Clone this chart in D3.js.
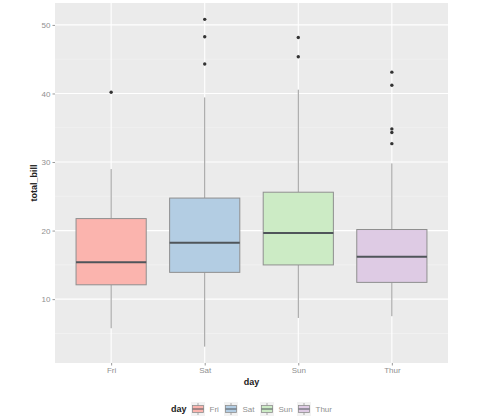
<!DOCTYPE html>
<html>
<head>
<meta charset="utf-8">
<script src="https://cdn.jsdelivr.net/npm/d3@7"></script>
<style>
  body { margin: 0; background: #fff; }
  svg text { font-family: "Liberation Sans", Arial, sans-serif; }
</style>
</head>
<body>
<div id="chart"></div>
<script>
const days = ["Fri", "Sat", "Sun", "Thur"];
const colors = ["#FBB4AE", "#B3CDE3", "#CCEBC5", "#DECBE4"];
const q1 = [12.09, 13.905, 14.9875, 12.4425];
const medians = [15.38, 18.24, 19.63, 16.2];
const q3 = [21.75, 24.74, 25.5975, 20.155];
const whiskerLow = [5.75, 3.07, 7.25, 7.51];
const whiskerHigh = [28.97, 39.42, 40.55, 29.8];
const outliers = [
  [40.17],
  [44.3, 48.27, 50.81],
  [45.35, 48.17],
  [32.68, 34.3, 34.83, 41.19, 43.11]
];
const yTicks = [10, 20, 30, 40, 50];
const yMinor = [5, 15, 25, 35, 45];

const W = 497, H = 420;
const panel = { left: 55, right: 448, top: 3, bottom: 363 };

const svg = d3.select("#chart").append("svg")
    .attr("width", W).attr("height", H);

// ggplot discrete expansion: 0.6 units beyond first and last category
const x = d3.scalePoint()
    .domain(days)
    .range([panel.left, panel.right])
    .padding(0.6);
const step = x.step();

const allVals = whiskerLow.concat(whiskerHigh, outliers.flat());
const lo = d3.min(allVals), hi = d3.max(allVals), pad = (hi - lo) * 0.05;
const y = d3.scaleLinear().domain([lo - pad, hi + pad]).range([panel.bottom, panel.top]);

// panel
svg.append("rect")
    .attr("x", panel.left).attr("y", panel.top)
    .attr("width", panel.right - panel.left).attr("height", panel.bottom - panel.top)
    .attr("fill", "#EBEBEB");

svg.selectAll(".minor").data(yMinor).enter().append("line")
    .attr("x1", panel.left).attr("x2", panel.right)
    .attr("y1", d => y(d)).attr("y2", d => y(d))
    .attr("stroke", "#F5F5F5").attr("stroke-width", 0.6);

svg.selectAll(".major").data(yTicks).enter().append("line")
    .attr("x1", panel.left).attr("x2", panel.right)
    .attr("y1", d => y(d)).attr("y2", d => y(d))
    .attr("stroke", "#fff").attr("stroke-width", 1.1);

svg.selectAll(".vmajor").data(days).enter().append("line")
    .attr("x1", d => x(d)).attr("x2", d => x(d))
    .attr("y1", panel.top).attr("y2", panel.bottom)
    .attr("stroke", "#fff").attr("stroke-width", 1.1);

// axes
const yAxis = svg.append("g")
    .attr("transform", `translate(${panel.left},0)`)
    .call(d3.axisLeft(y).tickValues(yTicks).tickSize(2.5).tickPadding(2));
const xAxis = svg.append("g")
    .attr("transform", `translate(0,${panel.bottom})`)
    .call(d3.axisBottom(x).tickSize(2.5).tickPadding(2));
[yAxis, xAxis].forEach(a => {
  a.select(".domain").remove();
  a.selectAll(".tick line").attr("stroke", "#999");
  a.selectAll("text").attr("fill", "#8f8f8f").attr("font-size", 8);
});

const bw = step * 0.75;

days.forEach((d, i) => {
  const cx = x(d);
  const g = svg.append("g");
  g.append("line")
      .attr("x1", cx).attr("x2", cx)
      .attr("y1", y(whiskerHigh[i])).attr("y2", y(q3[i]))
      .attr("stroke", "#9a9a9a").attr("stroke-width", 1);
  g.append("line")
      .attr("x1", cx).attr("x2", cx)
      .attr("y1", y(q1[i])).attr("y2", y(whiskerLow[i]))
      .attr("stroke", "#9a9a9a").attr("stroke-width", 1);
  g.append("rect")
      .attr("x", cx - bw / 2).attr("width", bw)
      .attr("y", y(q3[i])).attr("height", y(q1[i]) - y(q3[i]))
      .attr("fill", colors[i]).attr("stroke", "#8f8f8f").attr("stroke-width", 1);
  g.append("line")
      .attr("x1", cx - bw / 2).attr("x2", cx + bw / 2)
      .attr("y1", y(medians[i])).attr("y2", y(medians[i]))
      .attr("stroke", "#4f555a").attr("stroke-width", 2);
  g.selectAll("circle").data(outliers[i]).enter().append("circle")
      .attr("cx", cx).attr("cy", v => y(v)).attr("r", 1.7)
      .attr("fill", "#333");
});

// axis titles
svg.append("text")
    .attr("x", (panel.left + panel.right) / 2).attr("y", 385)
    .attr("text-anchor", "middle").attr("font-size", 9).attr("font-weight", "bold")
    .attr("fill", "#222").text("day");
svg.append("text")
    .attr("transform", `translate(37,${(panel.top + panel.bottom) / 2}) rotate(-90)`)
    .attr("text-anchor", "middle").attr("font-size", 9).attr("font-weight", "bold")
    .attr("fill", "#222").text("total_bill");

// legend
const legend = svg.append("g");
legend.append("text")
    .attr("x", 171).attr("y", 412)
    .attr("font-size", 9).attr("font-weight", "bold").attr("fill", "#222").text("day");
const keyX = [191, 224, 260, 297];
days.forEach((d, i) => {
  const kx = keyX[i], ky = 402;
  legend.append("rect").attr("x", kx).attr("y", ky).attr("width", 14).attr("height", 14)
      .attr("fill", "#F2F2F2");
  legend.append("line").attr("x1", kx + 7).attr("x2", kx + 7).attr("y1", ky + 1).attr("y2", ky + 13)
      .attr("stroke", "#9a9a9a").attr("stroke-width", 0.8);
  legend.append("rect").attr("x", kx + 1.5).attr("y", ky + 3.5).attr("width", 11).attr("height", 7)
      .attr("fill", colors[i]).attr("stroke", "#8f8f8f").attr("stroke-width", 0.8);
  legend.append("line").attr("x1", kx + 1.5).attr("x2", kx + 12.5).attr("y1", ky + 7).attr("y2", ky + 7)
      .attr("stroke", "#4f555a").attr("stroke-width", 1);
  legend.append("text").attr("x", kx + 18.5).attr("y", ky + 10)
      .attr("font-size", 8).attr("fill", "#8f8f8f").text(d);
});
</script>
</body>
</html>
